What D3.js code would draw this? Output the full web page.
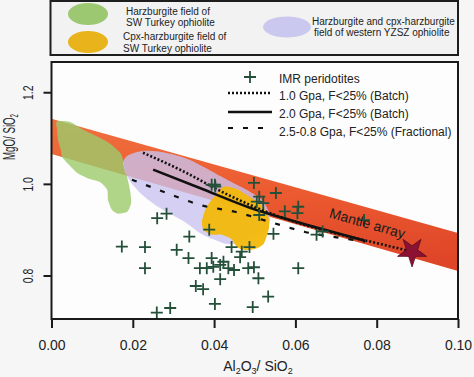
<!DOCTYPE html>
<html>
<head>
<meta charset="utf-8">
<script src="https://cdn.jsdelivr.net/npm/d3@7"></script>
<style>
  body { margin: 0; background: #f6f6f6; }
  svg { display: block; font-family: "Liberation Sans", Arial, sans-serif; }
</style>
</head>
<body>
<div id="wrapper"></div>
<script>
// ---- data ----
const xTicks = [0, 0.02, 0.04, 0.06, 0.08, 0.10]
const yTicks = [0.8, 1.0, 1.2]

// mantle array band edges [Al2O3/SiO2, MgO/SiO2]
const bandUpper = [[0, 1.142], [0.1, 0.893]]
const bandLower = [[0, 1.065], [0.1, 0.810]]

const greenField = [
  [0.0013, 1.136], [0.0046, 1.135], [0.0078, 1.118], [0.0137, 1.092], [0.0169, 1.068],
  [0.0176, 1.052], [0.0186, 1.015], [0.0193, 0.987], [0.0196, 0.959], [0.0186, 0.939],
  [0.0164, 0.935], [0.0149, 0.943], [0.0139, 0.965], [0.0137, 0.987], [0.0119, 1.004],
  [0.0087, 1.013], [0.0063, 1.024], [0.0038, 1.046], [0.0026, 1.059], [0.0023, 1.074],
  [0.0016, 1.096], [0.0014, 1.118],
]

const purpleField = [
  [0.0176, 1.048], [0.0186, 1.061], [0.0205, 1.068], [0.0230, 1.072], [0.0267, 1.070],
  [0.0304, 1.063], [0.0341, 1.052], [0.0378, 1.035], [0.0415, 1.017], [0.0451, 1.000],
  [0.0488, 0.983], [0.0518, 0.965], [0.0533, 0.943], [0.0538, 0.922], [0.0530, 0.900],
  [0.0508, 0.891], [0.0483, 0.882], [0.0459, 0.871], [0.0429, 0.869], [0.0395, 0.880],
  [0.0365, 0.893], [0.0328, 0.917], [0.0292, 0.935], [0.0255, 0.954], [0.0223, 0.976],
  [0.0198, 1.000], [0.0181, 1.026],
]

const yellowField = [
  [0.0407, 0.978], [0.0424, 0.994], [0.0456, 0.989], [0.0483, 0.974], [0.0513, 0.956],
  [0.0533, 0.930], [0.0535, 0.904], [0.0528, 0.882], [0.0520, 0.867], [0.0501, 0.858],
  [0.0471, 0.856], [0.0454, 0.865], [0.0442, 0.880], [0.0419, 0.889], [0.0395, 0.889],
  [0.0375, 0.898], [0.0370, 0.917], [0.0378, 0.943], [0.0390, 0.961],
]

const batch1GPa = [
  [0.0225, 1.068], [0.0316, 1.031], [0.0439, 0.974], [0.0562, 0.928],
  [0.0685, 0.895], [0.0808, 0.869], [0.0887, 0.852],
]
const batch2GPa = [
  [0.0250, 1.031], [0.0365, 0.991], [0.0488, 0.948], [0.0611, 0.915], [0.0771, 0.876],
]
const fractional = [
  [0.0198, 1.009], [0.0284, 0.980], [0.0365, 0.954], [0.0451, 0.939],
  [0.0537, 0.917], [0.0624, 0.895], [0.0710, 0.882], [0.0771, 0.874],
]

const primitiveMantle = [0.0887, 0.852]

const imrAl = [
  0.0402, 0.0394, 0.0403, 0.0498, 0.0552, 0.0511, 0.0505, 0.0521, 0.0511, 0.0574,
  0.0607, 0.0605, 0.0769, 0.0652, 0.0667, 0.0546, 0.0388, 0.0283, 0.0260, 0.0339,
  0.0173, 0.0230, 0.0308, 0.0230, 0.0337, 0.0394, 0.0443, 0.0487, 0.0468, 0.0464,
  0.0423, 0.0365, 0.0382, 0.0398, 0.0415, 0.0435, 0.0449, 0.0484, 0.0498, 0.0509,
  0.0415, 0.0607, 0.0355, 0.0373, 0.0533, 0.0402, 0.0495, 0.0292, 0.0259,
]
const imrMg = [
  0.998, 0.998, 0.994, 1.002, 0.980, 0.972, 0.961, 0.958, 0.932, 0.940,
  0.950, 0.936, 0.921, 0.889, 0.896, 0.891, 0.900, 0.935, 0.925, 0.885,
  0.863, 0.862, 0.856, 0.816, 0.838, 0.838, 0.862, 0.862, 0.852, 0.840,
  0.830, 0.816, 0.816, 0.819, 0.823, 0.816, 0.812, 0.816, 0.818, 0.794,
  0.792, 0.816, 0.777, 0.770, 0.754, 0.738, 0.731, 0.729, 0.719,
]

async function drawChart() {
  const dimensions = {
    width: 474,
    height: 377,
    margin: { top: 62, right: 16, bottom: 58, left: 51.5 },
  }
  dimensions.boundedWidth = dimensions.width - dimensions.margin.left - dimensions.margin.right
  dimensions.boundedHeight = dimensions.height - dimensions.margin.top - dimensions.margin.bottom

  const svg = d3.select("#wrapper")
    .append("svg")
      .attr("width", dimensions.width)
      .attr("height", dimensions.height)

  const defs = svg.append("defs")
  const grad = defs.append("linearGradient")
      .attr("id", "band-grad")
      .attr("x1", 0).attr("y1", 0).attr("x2", 0.1).attr("y2", 1)
  grad.append("stop").attr("offset", "0%").attr("stop-color", "#f0703f")
  grad.append("stop").attr("offset", "55%").attr("stop-color", "#eb5a30")
  grad.append("stop").attr("offset", "100%").attr("stop-color", "#df4628")

  const clip = defs.append("clipPath").attr("id", "plot-clip")
  clip.append("rect")
      .attr("x", dimensions.margin.left)
      .attr("y", dimensions.margin.top)
      .attr("width", dimensions.boundedWidth)
      .attr("height", dimensions.boundedHeight)

  // scales
  const xScale = d3.scaleLinear()
    .domain([0, 0.1])
    .range([dimensions.margin.left, dimensions.margin.left + dimensions.boundedWidth])
  const yScale = d3.scaleLinear()
    .domain([0.705, 1.266])
    .range([dimensions.margin.top + dimensions.boundedHeight, dimensions.margin.top])

  // top legend box
  svg.append("rect")
      .attr("x", 50.5).attr("y", 1)
      .attr("width", 407.5).attr("height", 54)
      .attr("fill", "#f2f2f2")
      .attr("stroke", "#1e1e1e")
      .attr("stroke-width", 2)

  const fieldLegend = [
    { cx: 88, cy: 14, rx: 20, ry: 11, fill: "#9cc872", lines: ["Harzburgite field of", "SW Turkey ophiolite"], tx: 126, ty: 14.5 },
    { cx: 88, cy: 42, rx: 20, ry: 11, fill: "#e9b31c", lines: ["Cpx-harzburgite field of", "SW Turkey ophiolite"], tx: 123, ty: 40 },
    { cx: 287, cy: 27, rx: 24, ry: 10.5, fill: "#cac8ee", lines: ["Harzburgite and cpx-harzburgite", "field of western YZSZ ophiolite"], tx: 312, ty: 24.5 },
  ]
  fieldLegend.forEach(d => {
    svg.append("ellipse")
        .attr("cx", d.cx).attr("cy", d.cy)
        .attr("rx", d.rx).attr("ry", d.ry)
        .attr("fill", d.fill)
    d.lines.forEach((t, i) => {
      svg.append("text")
          .attr("x", d.tx + (d.cx > 200 ? i * 2 : 0))
          .attr("y", d.ty + i * 11.5)
          .attr("font-size", 10)
          .attr("fill", "#222")
          .text(t)
    })
  })

  // plot background
  svg.append("rect")
      .attr("x", dimensions.margin.left)
      .attr("y", dimensions.margin.top)
      .attr("width", dimensions.boundedWidth)
      .attr("height", dimensions.boundedHeight)
      .attr("fill", "#fdfdfd")

  const bounds = svg.append("g").attr("clip-path", "url(#plot-clip)")

  // mantle array band
  const bandPts = bandUpper.concat(bandLower.slice().reverse())
  bounds.append("path")
      .attr("d", d3.line().x(d => xScale(d[0])).y(d => yScale(d[1]))(bandPts) + "Z")
      .attr("fill", "url(#band-grad)")

  const blob = d3.line()
    .x(d => xScale(d[0]))
    .y(d => yScale(d[1]))
    .curve(d3.curveCardinalClosed.tension(0.3))

  bounds.append("path")
      .attr("d", blob(greenField))
      .attr("fill", "#9ccb6c")
      .attr("opacity", 0.8)
  bounds.append("path")
      .attr("d", blob(purpleField))
      .attr("fill", "#c9c3ef")
      .attr("opacity", 0.78)
  bounds.append("path")
      .attr("d", blob(yellowField))
      .attr("fill", "#f2b80a")
      .attr("opacity", 0.95)

  // melting curves
  const curve = d3.line()
    .x(d => xScale(d[0]))
    .y(d => yScale(d[1]))
    .curve(d3.curveMonotoneX)
  const lineStyles = [
    { data: batch1GPa, dash: "2,2", width: 2.6, label: "1.0 Gpa, F<25% (Batch)" },
    { data: batch2GPa, dash: null, width: 2.6, label: "2.0 Gpa, F<25% (Batch)" },
    { data: fractional, dash: "5,10", width: 2.2, label: "2.5-0.8 Gpa, F<25% (Fractional)" },
  ]
  lineStyles.forEach(s => {
    bounds.append("path")
        .attr("d", curve(s.data))
        .attr("fill", "none")
        .attr("stroke", "#111")
        .attr("stroke-width", s.width)
        .attr("stroke-dasharray", s.dash)
  })

  // IMR peridotites
  const crossPath = "M-6,0H6M0,-6V6"
  const imr = d3.range(imrAl.length).map(i => [imrAl[i], imrMg[i]])
  bounds.selectAll(".imr")
    .data(imr)
    .enter().append("path")
      .attr("class", "imr")
      .attr("transform", d => `translate(${xScale(d[0])},${yScale(d[1])})`)
      .attr("d", crossPath)
      .attr("stroke", "#24503a")
      .attr("stroke-width", 1.8)

  // primitive mantle star
  bounds.append("path")
      .attr("transform", `translate(${xScale(primitiveMantle[0])},${yScale(primitiveMantle[1])}) rotate(180)`)
      .attr("d", d3.symbol(d3.symbolStar, 260)())
      .attr("fill", "#8c1234")
      .attr("stroke", "#5a0a20")
      .attr("stroke-width", 0.8)

  // mantle array label
  svg.append("text")
      .attr("transform", "translate(366,228) rotate(16)")
      .attr("text-anchor", "middle")
      .attr("font-size", 14)
      .attr("fill", "#1a1a1a")
      .text("Mantle array")

  // frame
  svg.append("rect")
      .attr("x", dimensions.margin.left)
      .attr("y", dimensions.margin.top)
      .attr("width", dimensions.boundedWidth)
      .attr("height", dimensions.boundedHeight)
      .attr("fill", "none")
      .attr("stroke", "#1a1a1a")
      .attr("stroke-width", 2)

  // axes
  const xAxis = svg.append("g")
      .attr("transform", `translate(0,${dimensions.margin.top + dimensions.boundedHeight})`)
      .call(d3.axisBottom(xScale).tickValues(xTicks).tickSize(9).tickFormat(d3.format(".2f")))
  xAxis.select(".domain").remove()
  xAxis.selectAll("line").attr("stroke", "#1a1a1a").attr("stroke-width", 2)
  xAxis.selectAll("text")
      .attr("y", 21)
      .attr("font-size", 14)
      .attr("font-family", "Liberation Sans, Arial, sans-serif")
      .attr("fill", "#222")

  const yAxis = svg.append("g")
      .attr("transform", `translate(${dimensions.margin.left},0)`)
      .call(d3.axisLeft(yScale).tickValues(yTicks).tickSize(8).tickFormat(d3.format(".1f")))
  yAxis.select(".domain").remove()
  yAxis.selectAll("line").attr("stroke", "#1a1a1a").attr("stroke-width", 2)
  yAxis.selectAll("text").remove()
  yAxis.selectAll(".tick").append("text")
      .attr("transform", "translate(-19,0) rotate(-90)")
      .attr("text-anchor", "middle")
      .attr("font-size", 15)
      .attr("textLength", 14.5)
      .attr("lengthAdjust", "spacingAndGlyphs")
      .attr("fill", "#222")
      .text(d => d3.format(".1f")(d))

  // axis titles
  const xTitle = svg.append("text")
      .attr("x", 258).attr("y", 371)
      .attr("text-anchor", "middle")
      .attr("font-size", 14)
      .attr("fill", "#222")
  xTitle.append("tspan").text("Al")
  xTitle.append("tspan").attr("font-size", 9).attr("dy", 2.5).text("2")
  xTitle.append("tspan").attr("dy", -2.5).text("O")
  xTitle.append("tspan").attr("font-size", 9).attr("dy", 2.5).text("3")
  xTitle.append("tspan").attr("dy", -2.5).text("/ SiO")
  xTitle.append("tspan").attr("font-size", 9).attr("dy", 2.5).text("2")

  const yTitle = svg.append("text")
      .attr("transform", "translate(15,137) rotate(-90)")
      .attr("text-anchor", "middle")
      .attr("font-size", 16)
      .attr("textLength", 46)
      .attr("lengthAdjust", "spacingAndGlyphs")
      .attr("fill", "#222")
  yTitle.append("tspan").text("MgO/ SiO")
  yTitle.append("tspan").attr("font-size", 10).attr("dy", 3).text("2")

  // in-plot legend
  const legend = svg.append("g")
  legend.append("path")
      .attr("transform", "translate(250,77)")
      .attr("d", crossPath)
      .attr("stroke", "#24503a")
      .attr("stroke-width", 1.8)
  legend.append("text")
      .attr("x", 279).attr("y", 82.5)
      .attr("font-size", 12)
      .attr("fill", "#222")
      .text("IMR peridotites")
  lineStyles.forEach((s, i) => {
    const y = [93, 112, 128][i]
    legend.append("line")
        .attr("x1", 228).attr("x2", 272)
        .attr("y1", y).attr("y2", y)
        .attr("stroke", "#111")
        .attr("stroke-width", s.width)
        .attr("stroke-dasharray", s.dash)
    legend.append("text")
        .attr("x", 279).attr("y", [99.5, 117.5, 136][i])
        .attr("font-size", 12)
        .attr("fill", "#222")
        .text(s.label)
  })
}
drawChart()
</script>
</body>
</html>
